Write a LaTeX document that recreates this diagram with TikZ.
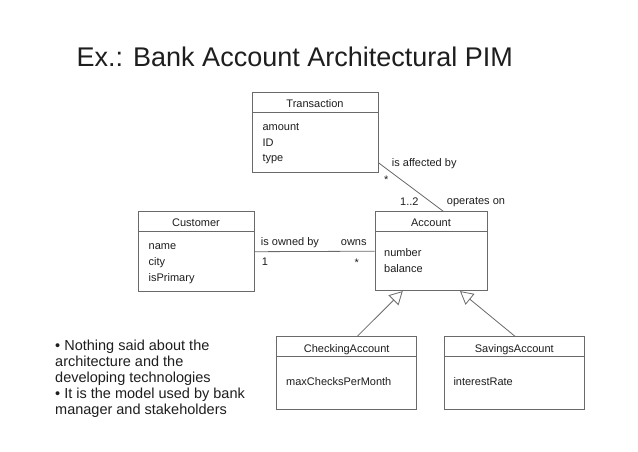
\documentclass[tikz,border=0pt]{standalone}
\usepackage{fontspec}
\setmainfont{Liberation Sans}
\usetikzlibrary{arrows.meta,calc}
\definecolor{boxline}{HTML}{6A6A6A}
\definecolor{txt}{HTML}{1E1E1E}
\tikzset{
  x=1pt,y=-1pt,
  umlbox/.style={draw=boxline,line width=0.8pt,rectangle,inner sep=0pt,fill=none},
  divline/.style={draw=boxline,line width=0.8pt},
  attr/.style={anchor=base west,inner sep=0pt,text=txt,font=\fontsize{11}{13}\selectfont},
  ctitle/.style={anchor=base,inner sep=0pt,text=txt,font=\fontsize{11}{13}\selectfont},
  assoc/.style={draw=boxline,line width=0.8pt},
  inherit/.style={draw=boxline,line width=0.8pt,-{Triangle[open,length=13pt,width=14pt,fill=white]}},
  lbl/.style={anchor=base west,inner sep=0pt,text=txt,font=\fontsize{11}{13}\selectfont},
}
\begin{document}
\begin{tikzpicture}
\useasboundingbox (0,0) rectangle (638,451);
\fill[white] (0,0) rectangle (638,451);
% title
\node[anchor=base west,inner sep=0pt,text=txt,font=\fontsize{27}{32}\selectfont] (title) at (76.5,66.7) {Ex.: Bank Account Architectural PIM};

% Transaction
\node[umlbox,minimum width=126,minimum height=80] (trans) at (315,132.3) {};
\draw[divline] (252,112) -- (378,112);
\node[ctitle] (transT) at (315,107.7) {Transaction};
\node[attr] (transA1) at (262.3,130) {amount};
\node[attr] (transA2) at (262.3,146) {ID};
\node[attr] (transA3) at (262.3,161.5) {type};

% Customer
\node[umlbox,minimum width=116,minimum height=80] (cust) at (196,251.7) {};
\draw[divline] (138,231.5) -- (254,231.5);
\node[ctitle] (custT) at (196,226.7) {Customer};
\node[attr] (custA1) at (148.5,249) {name};
\node[attr] (custA2) at (148.5,265) {city};
\node[attr] (custA3) at (148.5,281) {isPrimary};

% Account
\node[umlbox,minimum width=112,minimum height=79] (acct) at (431,251.2) {};
\draw[divline] (375,231.7) -- (487,231.7);
\node[ctitle] (acctT) at (431,226.7) {Account};
\node[attr] (acctA1) at (384,256) {number};
\node[attr] (acctA2) at (384,272.3) {balance};

% CheckingAccount
\node[umlbox,minimum width=140,minimum height=72.3] (check) at (346.7,372.85) {};
\draw[divline] (276.7,356.7) -- (416.7,356.7);
\node[ctitle] (checkT) at (346.7,352.3) {CheckingAccount};
\node[attr] (checkA1) at (286,385.7) {maxChecksPerMonth};

% SavingsAccount
\node[umlbox,minimum width=140,minimum height=72.3] (sav) at (514.3,372.85) {};
\draw[divline] (444.3,356.7) -- (584.3,356.7);
\node[ctitle] (savT) at (514.3,352.3) {SavingsAccount};
\node[attr] (savA1) at (453.3,385.7) {interestRate};

% associations
\draw[assoc] (cust.east) -- (acct.west);
\node[lbl] (l1) at (260.7,245.7) {is owned by};
\node[lbl] (l2) at (340.7,245.7) {owns};
\node[lbl] (l3) at (261.7,265.7) {1};
\node[lbl] (l4) at (354.5,266) {*};

\draw[assoc] ($(trans.south east)+(0,-10)$) -- ($(acct.north)+(12.3,0)$);
\node[lbl] (l5) at (391.7,166.7) {is affected by};
\node[lbl] (l6) at (383.8,183.5) {*};
\node[lbl] (l7) at (400,205.7) {1..2};
\node[lbl] (l8) at (446.7,204) {operates on};

% generalizations
\draw[inherit] ($(check.north)+(10.6,0)$) -- ($(acct.south)+(-28.3,0)$);
\draw[inherit] ($(sav.north)+(0.7,0)$) -- ($(acct.south)+(29,0)$);

% notes (base anchor = baseline of last line)
\node[anchor=base west,inner sep=0pt,text=txt,align=left,font=\fontsize{14.5}{16.1}\selectfont] (notes) at (55,414.5)
{• Nothing said about the\\architecture and the\\developing technologies\\• It is the model used by bank\\manager and stakeholders};
\end{tikzpicture}
\end{document}
